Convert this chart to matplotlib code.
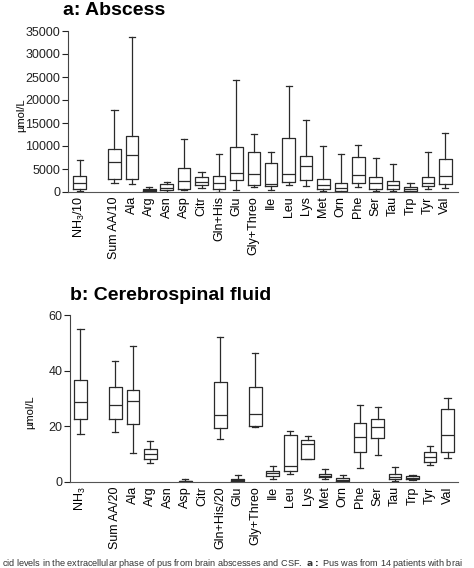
import matplotlib
matplotlib.use("Agg")
import matplotlib.pyplot as plt

plt.rcParams["font.family"] = ["Liberation Sans", "DejaVu Sans"]
plt.rcParams["mathtext.default"] = "regular"

# panel a: abscess (umol/L)
labels_a = ["NH$_3$/10", "Sum AA/10", "Ala", "Arg", "Asn", "Asp", "Citr", "Gln+His", "Glu",
            "Gly+Threo", "Ile", "Leu", "Lys", "Met", "Orn", "Phe", "Ser", "Tau", "Trp", "Tyr", "Val"]
lo_a = [150, 2030, 1670, 70, 70, 360, 800, 70, 510, 1020, 360, 1450, 1230, 220, 70, 1020, 220, 220, 70, 580, 870]
q1_a = [650, 2900, 2900, 150, 360, 730, 1450, 730, 2540, 1450, 1380, 2250, 2610, 730, 220, 2030, 730, 580, 220, 1310, 1740]
med_a = [1960, 6460, 8060, 430, 870, 2400, 2250, 1890, 4070, 3990, 1670, 3990, 5660, 1520, 940, 3630, 1890, 1450, 580, 2030, 3560]
q3_a = [3560, 9290, 12120, 650, 1670, 5150, 3190, 3560, 9730, 8640, 6240, 11760, 7840, 2900, 2030, 7700, 3190, 2470, 1020, 3190, 7110]
hi_a = [6970, 17860, 33600, 1160, 2250, 11540, 4320, 8280, 24320, 12560, 8710, 22940, 15680, 10090, 8280, 10310, 7410, 6030, 1960, 8710, 12780]

# panel b: cerebrospinal fluid (umol/L), None = no data
labels_b = ["NH$_3$", "Sum AA/20", "Ala", "Arg", "Asn", "Asp", "Citr", "Gln+His/20", "Glu",
            "Gly+Threo", "Ile", "Leu", "Lys", "Met", "Orn", "Phe", "Ser", "Tau", "Trp", "Tyr", "Val"]
lo_b = [17.2, 17.9, 10.5, 6.9, None, 0.0, None, 15.3, 0.1, 19.6, 1.2, 2.9, 8.2, 1.2, 0.0, 4.9, 9.7, 0.4, 0.7, 6.0, 8.7]
q1_b = [22.8, 22.7, 20.7, 8.1, None, 0.0, None, 19.4, 0.3, 20.2, 2.2, 3.8, 8.4, 1.7, 0.4, 10.9, 15.9, 1.0, 1.0, 7.1, 10.9]
med_b = [28.8, 27.8, 29.0, 10.1, None, 0.2, None, 24.0, 0.6, 24.4, 3.4, 5.8, 13.5, 2.3, 0.8, 16.2, 19.8, 1.9, 1.5, 9.1, 16.9]
q3_b = [36.8, 34.1, 33.2, 12.0, None, 0.4, None, 35.9, 1.0, 34.1, 4.1, 16.8, 15.1, 2.8, 1.3, 21.3, 22.6, 2.9, 2.0, 10.7, 26.4]
hi_b = [54.8, 43.5, 48.9, 14.9, None, 1.2, None, 52.2, 2.5, 46.2, 5.9, 18.3, 16.5, 4.5, 2.5, 27.8, 27.0, 5.5, 2.4, 13.1, 30.3]

# NH3 first, then a gap before the amino acids
positions = [0] + list(range(2, 22))

fig = plt.figure(figsize=(4.74, 5.68), dpi=100)
W, H = 474, 568


def panel(rect, labels, lo, q1, med, q3, hi, ymax, yticks, title, title_xy, ylab_xy):
    ax = fig.add_axes(rect)
    stats, pos = [], []
    for p, a, b, c, d, e in zip(positions, lo, q1, med, q3, hi):
        if a is None:
            continue
        stats.append(dict(whislo=a, q1=b, med=c, q3=d, whishi=e, fliers=[]))
        pos.append(p)
    lc = "#2a2a2a"
    ax.bxp(stats, positions=pos, widths=0.72, capwidths=0.35, showfliers=False,
           boxprops=dict(color=lc, linewidth=0.9),
           whiskerprops=dict(color=lc, linewidth=0.9),
           capprops=dict(color=lc, linewidth=0.9),
           medianprops=dict(color=lc, linewidth=0.9))
    ax.set_xticks(positions)
    ax.set_xticklabels(labels, rotation=90, fontsize=9)
    ax.tick_params(axis="x", length=0, pad=3)
    ax.set_ylim(0, ymax)
    ax.set_yticks(yticks)
    ax.tick_params(axis="y", length=4, width=0.8, labelsize=9, pad=1.5, colors="#222222")
    for s in ["top", "right"]:
        ax.spines[s].set_visible(False)
    ax.spines["left"].set_color("#444444")
    ax.spines["bottom"].set_color("#555555")
    ax.set_ylabel("\u00b5mol/L", fontsize=8)
    ax.yaxis.set_label_coords(*ylab_xy)
    fig.text(title_xy[0] / W, 1 - title_xy[1] / H, title, fontsize=14, fontweight="bold",
             va="baseline", ha="left")
    return ax


ax1 = panel([68 / W, 1 - 192 / H, (458 - 68) / W, (192 - 31) / H],
            labels_a, lo_a, q1_a, med_a, q3_a, hi_a, 35000, range(0, 35001, 5000),
            "a: Abscess", (63, 15), (-0.108, 0.48))
ax1.set_xlim(-0.67, 21.73)

ax2 = panel([70 / W, 1 - 482 / H, (458 - 70) / W, (482 - 315) / H],
            labels_b, lo_b, q1_b, med_b, q3_b, hi_b, 60, [0, 20, 40, 60],
            "b: Cerebrospinal fluid", (70, 300), (-0.09, 0.42))
ax2.set_xlim(-0.6, 21.6)

# caption fragment along the lower edge
fig.text(2 / W, 1 - 565.5 / H,
         "cid levels in the extracellular phase of pus from brain abscesses and CSF.  "
         "$\\bf{a:}$ Pus was from 14 patients with brai",
         fontsize=6.6, color="#333333", ha="left", va="baseline")

fig.savefig("out.png", dpi=100)
